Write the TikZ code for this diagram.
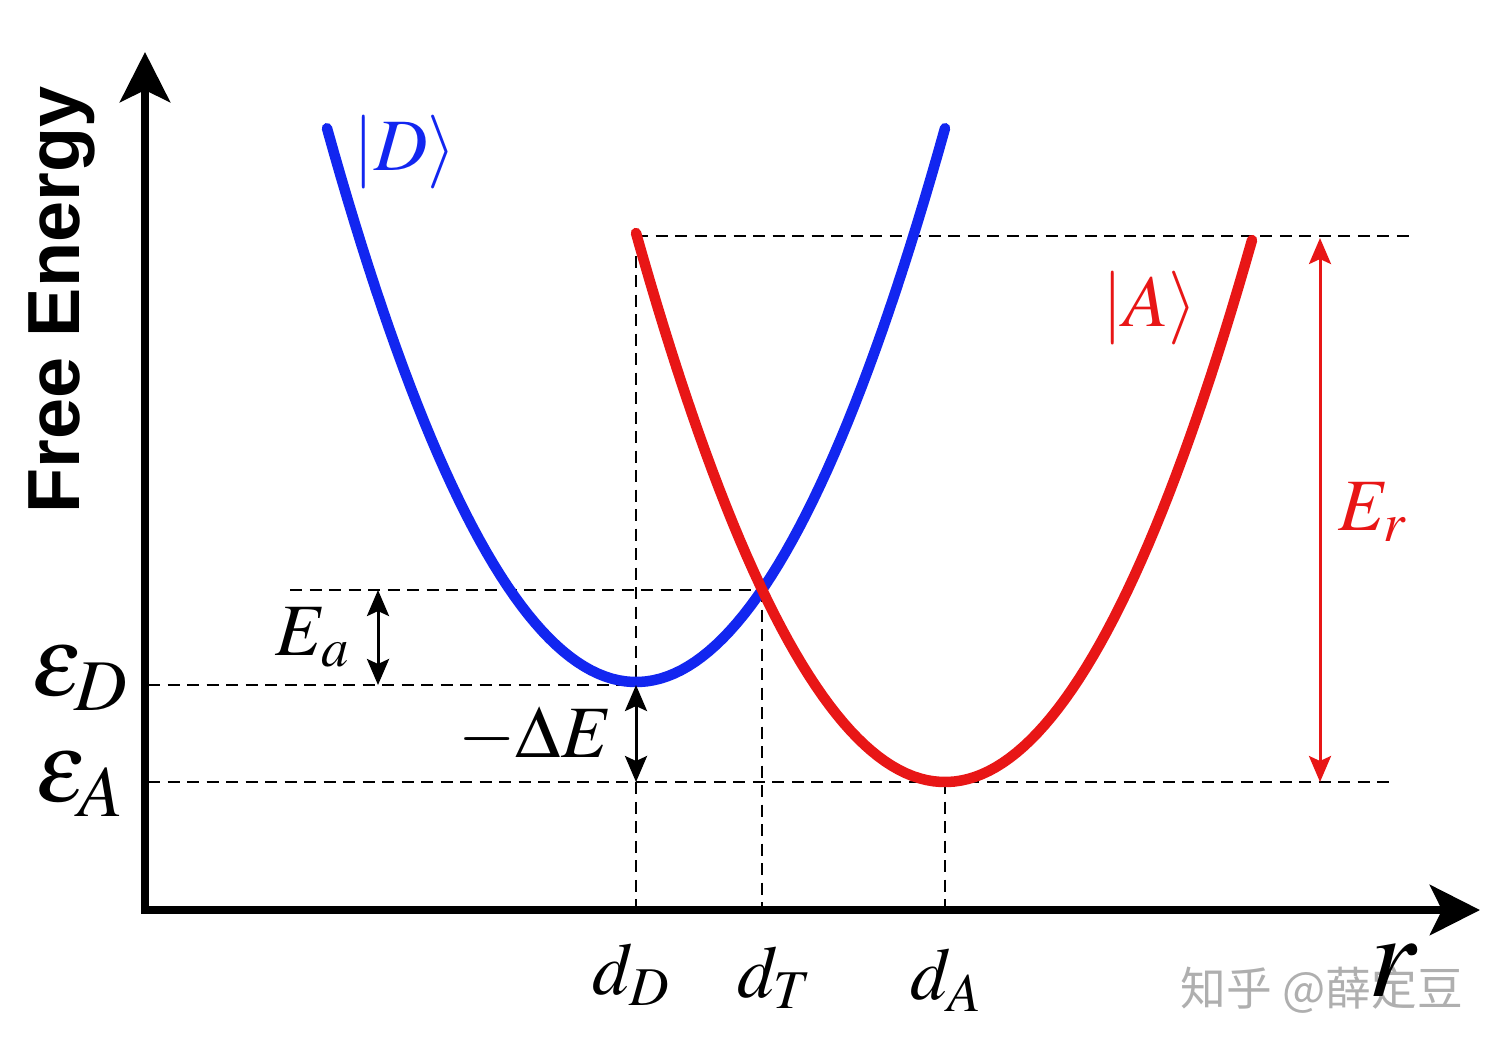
\documentclass[tikz,border=0pt]{standalone}
\usepackage{amsmath}
\usepackage{mathptmx}
\usepackage[no-math]{fontspec}
\newfontfamily\axisfont{Liberation Sans}
\newfontfamily\cjk{Noto Sans CJK SC}
\usetikzlibrary{arrows.meta}
\definecolor{curveblue}{RGB}{18,38,240}
\definecolor{curvered}{RGB}{232,22,22}
\definecolor{markgray}{RGB}{175,175,175}
\tikzstyle{axis}=[line width=0.08cm,line join=miter,{Stealth[length=0.5cm,width=0.5cm,inset=0.12cm]}-{Stealth[length=0.5cm,width=0.5cm,inset=0.12cm]}]
\tikzstyle{guide}=[line width=0.022cm,dash pattern=on 0.12cm off 0.075cm]
\tikzstyle{curveD}=[line width=0.105cm,line cap=round,curveblue]
\tikzstyle{curveA}=[line width=0.105cm,line cap=round,curvered]
\tikzstyle{gap}=[line width=0.03cm,{Stealth[length=0.26cm,width=0.22cm,inset=0.05cm]}-{Stealth[length=0.26cm,width=0.22cm,inset=0.05cm]}]
\tikzstyle{lbl}=[inner sep=0pt,font=\fontsize{21}{25}\selectfont]
\tikzstyle{biglbl}=[inner sep=0pt,font=\fontsize{28}{32}\selectfont]

\begin{document}
\begin{tikzpicture}[x=0.01cm,y=-0.01cm]
    \useasboundingbox (0,0) rectangle (1500,1050);
    % axes
    \coordinate (ytip) at (145,52);
    \coordinate (orig) at (145,910);
    \coordinate (xtip) at (1480,910);
    \draw[axis] (ytip) -- (orig) -- (xtip);

    % levels and guides
    \coordinate (topL) at (636,236);  \coordinate (topR) at (1410,236);
    \coordinate (crossL) at (290,590); \coordinate (cross) at (762,590);
    \coordinate (epsDL) at (148,685);  \coordinate (minD) at (636,685);
    \coordinate (epsAL) at (148,782);  \coordinate (epsAR) at (1395,782);
    \coordinate (minA) at (945,782);
    \coordinate (baseD) at (636,910);  \coordinate (baseT) at (762,910);
    \coordinate (baseA) at (945,910);
    \foreach \from/\to in {topL/topR,crossL/cross,epsDL/minD,epsAL/epsAR,topL/baseD,cross/baseT,minA/baseA}
    \draw[guide] (\from) -- (\to);

    % the two parabolas
    \draw[curveD] plot[domain=327:945,samples=90] (\x,{682-58*((\x-636)/100)^2});
    \draw[curveA] plot[domain=636:1252,samples=90] (\x,{782-57.5*((\x-945)/100)^2});

    % energy gaps
    \coordinate (eaTop) at (378,590); \coordinate (eaBot) at (378,685);
    \coordinate (deTop) at (636,685); \coordinate (deBot) at (636,782);
    \coordinate (erTop) at (1320,238); \coordinate (erBot) at (1320,782);
    \draw[gap] (eaTop) -- (eaBot);
    \draw[gap] (deTop) -- (deBot);
    \draw[gap,curvered] (erTop) -- (erBot);

    % labels
    \node[lbl] (Ea) at (313,637) {$E_a$};
    \node[lbl] (dE) at (535,735) {$-\Delta E$};
    \node[lbl,curvered] (Er) at (1373,512) {$E_r$};
    \node[lbl,curveblue] (ketD) at (405,152) {$|D\rangle$};
    \node[lbl,curvered] (ketA) at (1150,308) {$|A\rangle$};
    \node[lbl] (dD) at (632,975) {$d_D$};
    \node[lbl] (dT) at (775,978) {$d_T$};
    \node[lbl] (dA) at (947,980) {$d_A$};
    \node[biglbl] (epsD) at (80,678) {$\varepsilon_D$};
    \node[biglbl] (epsA) at (80,784) {$\varepsilon_A$};
    \node[inner sep=0pt,rotate=90,font=\axisfont\bfseries\fontsize{21}{25}\selectfont] (ylab) at (62,300) {Free Energy};
    \node[inner sep=0pt,markgray,font=\cjk\fontsize{13}{15}\selectfont] (mark) at (1322,990) {知乎 @薛定豆};
    \node[inner sep=0pt,font=\fontsize{34}{38}\selectfont] (xlab) at (1393,970) {$\boldsymbol{r}$};
\end{tikzpicture}
\end{document}
